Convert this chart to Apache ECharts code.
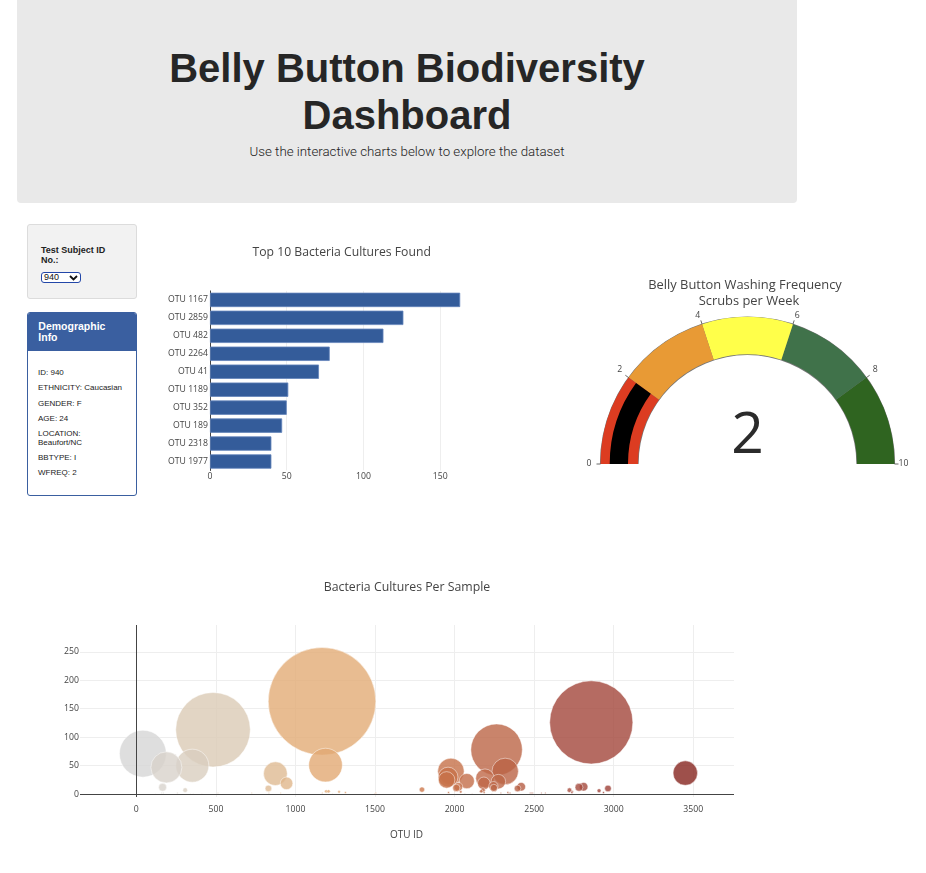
<!DOCTYPE html>
<html><head><meta charset="utf-8">
<script src="https://cdn.jsdelivr.net/npm/echarts@6/dist/echarts.min.js"></script>
<style>
html,body{margin:0;padding:0;background:#fff;width:926px;height:873px;overflow:hidden;font-family:"Liberation Sans",Arial,sans-serif;}
#jumbo{position:absolute;left:17px;top:0;width:780px;height:203px;background:#e9e9e9;border-radius:0 0 4px 4px;}
#jumbo h1{position:absolute;left:0;width:100%;top:45px;margin:0;text-align:center;font-size:40px;line-height:47px;font-weight:bold;color:#262626;}
#jumbo p{position:absolute;left:0;width:100%;top:144px;margin:0;text-align:center;font-family:Roboto,"Liberation Sans",sans-serif;font-weight:300;font-size:13.3px;line-height:16px;color:#222;}
#sel{position:absolute;left:27px;top:224px;width:108px;height:73px;background:#f2f2f2;border:1px solid #dcdcdc;border-radius:3px;}
#sel .lab{position:absolute;left:13px;top:19.6px;width:80px;font-size:9px;line-height:10.7px;font-weight:bold;color:#222;}
#sel .dd{position:absolute;left:13px;top:47px;width:36px;height:9px;border:1.5px solid #2347a8;border-radius:3px;background:#fff;font-size:9px;line-height:9px;color:#111;padding-left:2px;}
#sel .dd svg{position:absolute;right:2px;top:1.5px;}
#demo{position:absolute;left:27px;top:312px;width:108px;height:182px;border:1px solid #3a5fa0;border-radius:3px;background:#fff;overflow:hidden;}
#demo .hd{background:#3a5fa0;height:38px;box-sizing:border-box;padding:7.7px 0 0 10.3px;color:#fff;font-weight:bold;font-size:10.5px;line-height:11.3px;}
#demo .bd{padding:17.2px 0 0 10px;width:88px;}
#demo .bd p{margin:0 0 6.2px 0;font-size:8px;line-height:9px;color:#222;}
#chart{position:absolute;left:0;top:0;width:926px;height:873px;}
</style></head>
<body>
<div id="jumbo"><h1>Belly Button Biodiversity<br>Dashboard</h1><p>Use the interactive charts below to explore the dataset</p></div>
<div id="sel"><div class="lab">Test Subject ID No.:</div>
<div class="dd">940<svg width="9" height="6" viewBox="0 0 9 6"><polyline points="1,1 4.5,4.5 8,1" fill="none" stroke="#111" stroke-width="1.8"/></svg></div></div>
<div id="demo"><div class="hd">Demographic<br>Info</div>
<div class="bd" id="meta"></div></div>
<div id="chart"></div>
<script>
// ---- data (sample 940) ----
const otuIds = [1167, 2859, 482, 2264, 41, 1189, 352, 189, 2318, 1977,
  3450, 874, 1959, 2191, 1950, 2077, 2275, 944, 2184, 2244,
  2024, 2419, 2811, 165, 2782, 2247, 2011, 2396, 830, 2964,
  1795, 2722, 307, 2178, 2908, 1193, 2167, 1208, 2039, 1274,
  2739, 2737, 1314, 1962, 2186, 2335, 2936, 907, 833, 2483,
  2475, 2491, 2291, 159, 2571, 2350, 2342, 2546, 725, 170,
  1505, 513, 259, 1169, 258, 1232, 1497, 1498, 1503, 412,
  2235, 1960, 1968, 121, 2065, 340, 2110, 2188, 357, 342];
const sampleValues = [163, 126, 113, 78, 71, 51, 50, 47, 40, 40,
  37, 36, 30, 28, 25, 23, 22, 19, 19, 14,
  13, 13, 13, 12, 12, 11, 11, 10, 10, 10,
  8, 7, 7, 7, 6, 5, 5, 5, 4, 4,
  4, 3, 3, 3, 3, 3, 3, 2, 2, 2,
  2, 2, 2, 2, 2, 2, 2, 2, 2, 2,
  2, 2, 2, 2, 2, 1, 1, 1, 1, 1,
  1, 1, 1, 1, 1, 1, 1, 1, 1, 1];
const metaKeys = ['ID', 'ETHNICITY', 'GENDER', 'AGE', 'LOCATION', 'BBTYPE', 'WFREQ'];
const metaValues = ['940', 'Caucasian', 'F', '24', 'Beaufort/NC', 'I', '2'];
const washFreq = [2];
const gaugeMin = 0, gaugeMax = 10;

document.getElementById('meta').innerHTML = metaKeys.map((k, i) => '<p>' + k + ': ' + metaValues[i] + '</p>').join('');

const topN = 10;
const barLabels = otuIds.slice(0, topN).map(id => 'OTU ' + id);
const barValues = sampleValues.slice(0, topN);
const bubbleData = otuIds.map((id, i) => [id, sampleValues[i]]);

const FONT = "'Open Sans', sans-serif";
const TICK = 8.7;
const plain = v => String(v);
const chart = echarts.init(document.getElementById('chart'), null, {renderer: 'canvas'});
const gaugeCenter = [747.5, 464];
chart.setOption({
  animation: false,
  textStyle: {fontFamily: FONT},
  graphic: [
    {type: 'text', x: 341.7, y: 253, style: {text: 'Top 10 Bacteria Cultures Found', font: "12.2px 'Open Sans'", fill: '#444', align: 'center', verticalAlign: 'middle'}},
    {type: 'text', x: 745, y: 285, style: {text: 'Belly Button Washing Frequency', font: "12.9px 'Open Sans'", fill: '#444', align: 'center', verticalAlign: 'middle'}},
    {type: 'text', x: 749, y: 301, style: {text: 'Scrubs per Week', font: "12.9px 'Open Sans'", fill: '#444', align: 'center', verticalAlign: 'middle'}},
    {type: 'text', x: 407, y: 587, style: {text: 'Bacteria Cultures Per Sample', font: "12.3px 'Open Sans'", fill: '#444', align: 'center', verticalAlign: 'middle'}},
    {type: 'text', x: 406.5, y: 835, style: {text: 'OTU ID', font: "10px 'Open Sans'", fill: '#444', align: 'center', verticalAlign: 'middle'}}
  ],
  grid: [
    {left: 210, top: 290.9, width: 264, height: 179.6, outerBoundsMode: 'none', containLabel: false},
    {left: 80, top: 625, width: 654, height: 172, outerBoundsMode: 'none', containLabel: false}
  ],
  xAxis: [
    {type: 'value', gridIndex: 0, min: 0, max: 172, splitNumber: 4,
      axisLine: {show: false}, axisTick: {show: false},
      axisLabel: {fontSize: TICK, color: '#444', margin: 2, formatter: plain, showMaxLabel: false, showMinLabel: true},
      splitLine: {show: true, showMaxLine: false, lineStyle: {color: '#eee', width: 1}}},
    {type: 'value', gridIndex: 1, min: -354, max: 3756, splitNumber: 8,
      axisLine: {show: false}, axisTick: {show: false},
      axisLabel: {fontSize: TICK, color: '#444', margin: 8, formatter: plain, showMaxLabel: false, showMinLabel: false},
      splitLine: {show: true, showMaxLine: false, showMinLine: false, lineStyle: {color: '#eee', width: 1}}}
  ],
  yAxis: [
    {type: 'category', gridIndex: 0, data: barLabels, inverse: true,
      axisLine: {show: true, lineStyle: {color: '#444', width: 1}}, axisTick: {show: false},
      axisLabel: {fontSize: TICK, color: '#444', margin: 2}, splitLine: {show: false}},
    {type: 'value', gridIndex: 1, min: -5, max: 297, splitNumber: 5,
      axisLine: {show: false}, axisTick: {show: false},
      axisLabel: {fontSize: TICK, color: '#444', margin: 1, formatter: plain, showMaxLabel: false, showMinLabel: false},
      splitLine: {show: true, showMaxLine: false, showMinLine: false, lineStyle: {color: '#eee', width: 1}}}
  ],
  visualMap: [{show: false, type: 'continuous', seriesIndex: 1, dimension: 0, min: 41, max: 3450,
    inRange: {color: ['#d6d6d6', '#ddc8ac', '#e2aa74', '#cf7a4c', '#ba6345', '#a1453b', '#86241e']}}],
  series: [
    {type: 'bar', xAxisIndex: 0, yAxisIndex: 0, data: barValues, barCategoryGap: '20%',
      itemStyle: {color: '#345c9a', borderColor: '#6384bb', borderWidth: 0.8}},
    {type: 'scatter', xAxisIndex: 1, yAxisIndex: 1, data: bubbleData,
      symbolSize: d => d[1] * 0.66,
      itemStyle: {opacity: 0.8, borderColor: '#fff', borderWidth: 0.6},
      markLine: {silent: true, symbol: 'none', label: {show: false}, animation: false,
        lineStyle: {color: '#444', width: 1, type: 'solid'},
        data: [{xAxis: 0}, {yAxis: 0}]}},
    {type: 'gauge', center: gaugeCenter, radius: 147.6, startAngle: 180, endAngle: 0, min: gaugeMin, max: gaugeMax,
      axisLine: {lineStyle: {width: 38.7, color: [[1, '#777']]}},
      axisTick: {show: false}, splitLine: {show: false}, axisLabel: {show: false},
      pointer: {show: false}, title: {show: false}, detail: {show: false}, data: [{value: 0}]},
    {type: 'gauge', center: gaugeCenter, radius: 147, startAngle: 180, endAngle: 0, min: gaugeMin, max: gaugeMax, splitNumber: 5,
      axisLine: {lineStyle: {width: 37.5, color: [[0.2, '#dc3c21'], [0.4, '#e89a35'], [0.6, '#ffff4a'], [0.8, '#40724a'], [1, '#2f6420']]}},
      axisTick: {show: false},
      splitLine: {show: true, distance: -41.5, length: 4, lineStyle: {color: '#444', width: 0.8}},
      axisLabel: {show: true, distance: 23.5, fontSize: TICK, color: '#444', fontFamily: FONT},
      pointer: {show: false}, title: {show: false},
      detail: {show: true, offsetCenter: [0, -27], fontSize: 57, color: '#2b2b2b', fontFamily: FONT, fontWeight: 'normal', formatter: '{value}', valueAnimation: false},
      data: washFreq.map(v => ({value: v, name: ''}))},
    {type: 'gauge', center: gaugeCenter, radius: 137.8, startAngle: 180, endAngle: 0, min: gaugeMin, max: gaugeMax,
      axisLine: {show: false, lineStyle: {width: 0}},
      progress: {show: true, width: 18.3, itemStyle: {color: '#000'}},
      axisTick: {show: false}, splitLine: {show: false}, axisLabel: {show: false},
      pointer: {show: false}, title: {show: false}, detail: {show: false},
      data: washFreq.map(v => ({value: v, name: ''}))}
  ]
});
</script>
</body></html>
